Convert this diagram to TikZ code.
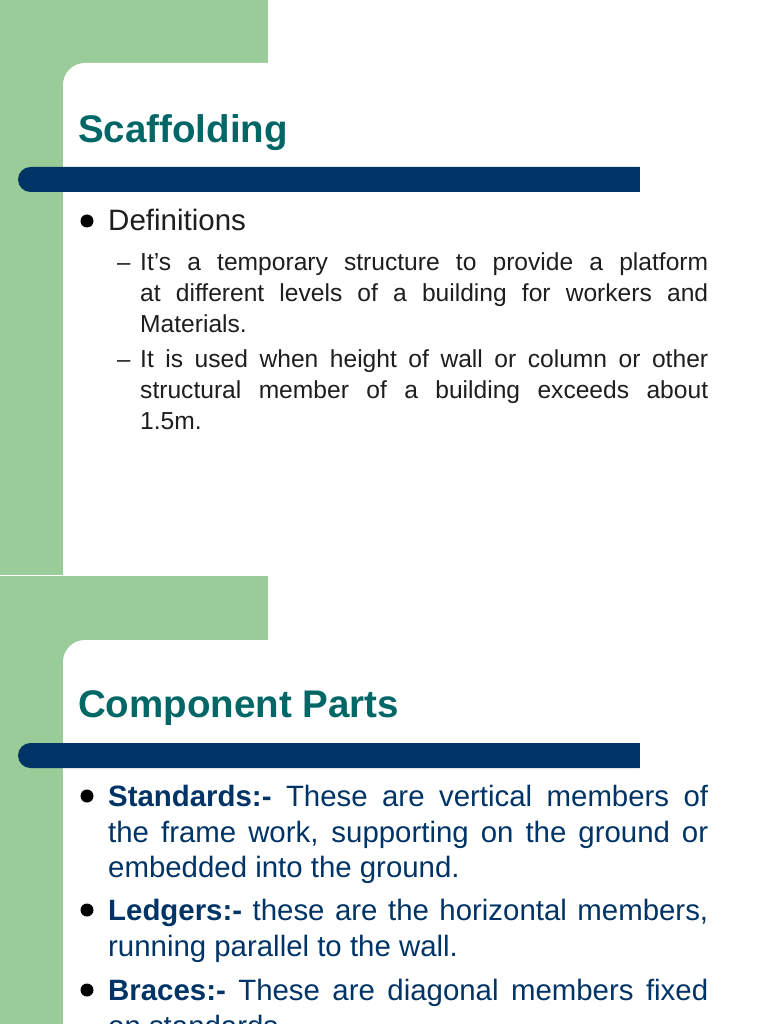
\documentclass[tikz,border=0pt]{standalone}
\usepackage{fontspec}
\setmainfont{Liberation Sans}
\definecolor{grn}{RGB}{153,204,153}
\definecolor{navy}{RGB}{0,51,102}
\definecolor{teal}{RGB}{0,102,102}
\definecolor{body}{RGB}{30,30,30}
\newcommand{\nohyph}{\hyphenpenalty=10000\exhyphenpenalty=10000\relax}
\tikzset{
  ttl/.style={anchor=base west,inner sep=0,text=teal,font=\fontsize{38.5}{44}\selectfont\bfseries},
  bul/.style={circle,fill=black,inner sep=0,minimum size=13pt},
  sub/.style={anchor=north west,inner sep=0,text width=568pt,align=justify,text=body,font=\fontsize{24.6}{31}\selectfont\nohyph},
  para/.style={anchor=north west,inner sep=0,text width=600pt,align=justify,text=navy,font=\fontsize{29.4}{35.5}\selectfont\nohyph},
  bar/.style={fill=navy,rounded corners=12.5pt}
}
\begin{document}
\begin{tikzpicture}[x=1pt,y=-1pt]
\useasboundingbox (0,0) rectangle (768,1024);
\clip (0,0) rectangle (768,1024);
% slide 1 background
\fill[grn] (0,0) rectangle (268,575);
\fill[white,rounded corners=22pt] (63,63) rectangle (800,1200);
\fill[white] (268,0) rectangle (768,63);
% slide 2 background
\fill[grn] (0,576) rectangle (268,1024);
\fill[white,rounded corners=22pt] (63,640) rectangle (800,1400);
\fill[white] (268,576) rectangle (768,640);
\fill[white] (0,575) rectangle (768,576);
% bars
\fill[bar] (18,167) rectangle (652,192);
\fill[white] (640,160) rectangle (660,200);
\fill[bar] (18,743) rectangle (652,768);
\fill[white] (640,736) rectangle (660,776);
% slide 1 text
\node[ttl] (t1) at (78,143) {Scaffolding};
\node[bul] (b1) at (87,221) {};
\node[anchor=base west,inner sep=0,text=body,font=\fontsize{29.5}{34}\selectfont] (d) at (108,231) {Definitions};
\node[anchor=base west,inner sep=0,text=body,font=\fontsize{24}{31}\selectfont] (m1) at (117,270) {\textendash};
\node[sub] (s1) at (140,252) {It’s a temporary structure to provide a platform at different levels of a building for workers and\linebreak Materials.};
\node[anchor=base west,inner sep=0,text=body,font=\fontsize{24}{31}\selectfont] (m2) at (117,367) {\textendash};
\node[sub] (s2) at (140,349) {It is used when height of wall or column or other structural member of a building exceeds about\linebreak 1.5m.};
% slide 2 text
\node[ttl] (t2) at (78,717) {Component Parts};
\node[bul] (c1) at (87,796) {};
\node[para] (p1) at (108,785) {\textbf{Standards:-} These are vertical members of the frame work, supporting on the ground or embedded into the ground.};
\node[bul] (c2) at (87,910) {};
\node[para] (p2) at (108,899) {\textbf{Ledgers:-} these are the horizontal members, running parallel to the wall.};
\node[bul] (c3) at (87,990) {};
\node[para] (p3) at (108,979) {\textbf{Braces:-} These are diagonal members fixed\linebreak on standards.};
\end{tikzpicture}
\end{document}
